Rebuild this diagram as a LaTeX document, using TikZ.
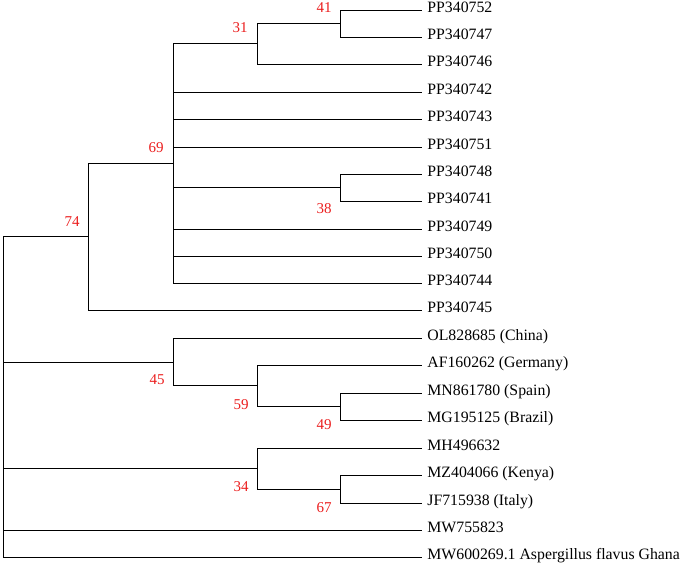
\documentclass[tikz,border=0pt]{standalone}
\usepackage{fontspec}
\setmainfont{Liberation Serif}
\begin{document}
\begin{tikzpicture}[x=1pt,y=-1pt,line width=0.8pt,
 leaf/.style={anchor=west,inner xsep=5pt,inner ysep=0pt,text height=7pt,text depth=2pt,font=\fontsize{15.8}{18}\selectfont},
 bs/.style={text={rgb,255:red,235;green,30;blue,30},font=\fontsize{15}{17}\selectfont,inner sep=0pt}]
\useasboundingbox (0,0) rectangle (685,568);
\foreach \n/\y/\t in {l1/10/PP340752,l2/37/PP340747,l3/64/PP340746,l4/92/PP340742,l5/119/PP340743,l6/147/PP340751,l7/174/PP340748,l8/201/PP340741,l9/229/PP340749,l10/256/PP340750,l11/283/PP340744,l12/310/PP340745,l13/338/OL828685 (China),l14/365/AF160262 (Germany),l15/393/MN861780 (Spain),l16/420/MG195125 (Brazil),l17/448/MH496632,l18/475/MZ404066 (Kenya),l19/503/JF715938 (Italy),l20/530/MW755823,l21/557/MW600269.1 Aspergillus flavus Ghana}
  \node[leaf] (\n) at (422,\y) {\t};
\coordinate (n41) at (340,23.5);
\coordinate (n31) at (257,43.75);
\coordinate (n38) at (340,187.5);
\coordinate (n69) at (173,163.4);
\coordinate (n74) at (88,236.7);
\coordinate (n49) at (340,406.5);
\coordinate (n59) at (257,385.75);
\coordinate (n45) at (173,361.9);
\coordinate (n67) at (340,489);
\coordinate (n34) at (257,468.5);
\coordinate (root) at (3,396.8);
\draw (n41) |- (l1.west); \draw (n41) |- (l2.west);
\draw (n31) |- (n41); \draw (n31) |- (l3.west);
\draw (n38) |- (l7.west); \draw (n38) |- (l8.west);
\draw (n69) |- (n31);
\foreach \c in {l4,l5,l6,l9,l10,l11} \draw (n69) |- (\c.west);
\draw (n69) |- (n38);
\draw (n74) |- (n69); \draw (n74) |- (l12.west);
\draw (n49) |- (l15.west); \draw (n49) |- (l16.west);
\draw (n59) |- (l14.west); \draw (n59) |- (n49);
\draw (n45) |- (l13.west); \draw (n45) |- (n59);
\draw (n67) |- (l18.west); \draw (n67) |- (l19.west);
\draw (n34) |- (l17.west); \draw (n34) |- (n67);
\draw (root) |- (n74); \draw (root) |- (n45); \draw (root) |- (n34);
\draw (root) |- (l20.west); \draw (root) |- (l21.west);
\node[bs] at (324,8) {41};
\node[bs] at (240,28) {31};
\node[bs] at (156,148) {69};
\node[bs] at (72,222) {74};
\node[bs] at (324,209) {38};
\node[bs] at (157,380) {45};
\node[bs] at (241,405) {59};
\node[bs] at (324,425) {49};
\node[bs] at (241,487) {34};
\node[bs] at (324,508) {67};
\end{tikzpicture}
\end{document}
